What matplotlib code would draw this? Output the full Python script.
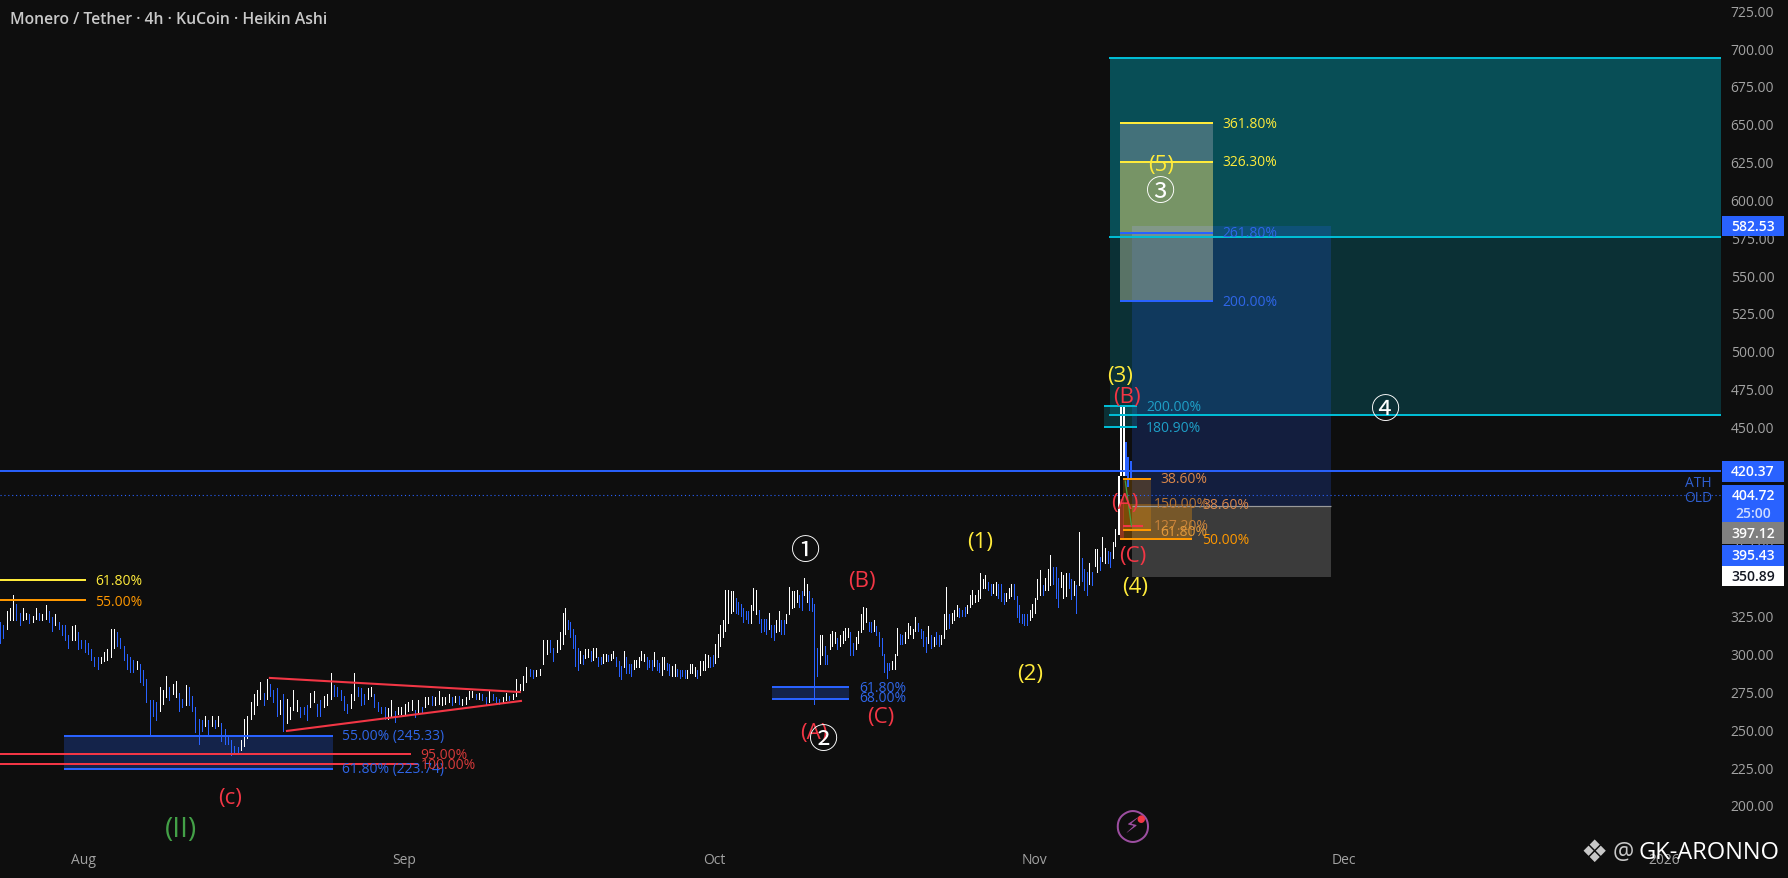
import numpy as np
import matplotlib.pyplot as plt
from matplotlib.patches import Rectangle

W, H = 1788, 879
BG = "#0e0e0e"
BLUE = "#2962ff"
CYAN = "#00bcd4"
YELLOW = "#ffeb3b"
ORANGE = "#ff9800"
RED = "#f23645"

plt.rcParams['font.family'] = ['Open Sans', 'DejaVu Sans']

# price bars (about one bar in two), high / low / colour
sec1_hi = [321,319,328,330,339,333,327,330,327,326,
           325,330,327,326,332,328,324,326,321,319,
           319,312,318,319,314,309,309,307,303,298,
           298,298,301,303,316,316,314,310,305,300,
           298,296,295,293,289,283,269,269,268,278,
           276,285,278,280,282,274,270,279,278,272,
           265,257,256,259,256,259,256,259,254,250,
           245,243,239,238,243,257,259,268,273,276,
           281,274,283,280,276,277]
sec1_lo = [307,310,316,322,322,322,319,322,323,320,
           321,323,322,322,323,321,315,319,316,312,
           309,304,309,309,303,304,301,300,296,292,
           290,294,295,296,298,304,305,304,296,290,
           288,288,290,281,279,268,247,259,256,262,
           267,271,269,273,271,262,265,266,266,262,
           248,240,249,252,247,252,251,252,242,240,
           240,233,234,235,236,239,244,257,260,266,
           270,266,270,272,268,259]
sec1_up = "bbwwwbbwwb" "wwbwwbbwbb" "bbwwbbbbbb" "bwwwwwbbbb" "bbwbbbbbbw" \
          "wwbwwbbwbb" "bbbwbwbwbb" "bbbbwwwwww" "wbwbbb"

sec2_hi = [269,273,270,265,276,269,265,265,266,274,
           275,267,269,272,273,287,279,278,276,272,
           267,273,287,278,277,273,277,278,273,268,
           265,265,264,269,262,265,265,267,268,269,
           263,269,265,271,271,272,271,275,271,271,
           273,271,272,272,270,271,275,275,273,274,
           273,271,276,273,271,270,271,274,272,273,
           283,280,285,291,290,289,289,290,309,309,
           309,304,309]
sec2_lo = [260,249,254,257,263,262,258,260,256,265,
           268,259,259,265,266,270,272,272,269,263,
           261,264,269,272,266,267,270,272,265,262,
           261,257,257,258,255,260,260,260,262,263,
           258,261,261,265,267,266,266,267,266,267,
           268,266,268,267,266,267,270,271,270,270,
           269,267,268,269,268,267,268,269,269,270,
           272,276,276,281,285,284,285,286,293,300,
           301,295,301]
sec2_up = "wbwwwwbbbw" "wbbwwwbbbb" "bwwbbbwwbb" "bbwwbwwwww" "bwbwwbwwww" \
          "wbwbwwwwbw" "bbwbbbwwbw" "wwwwbbwwww" "bbw"

sec3_hi = [314,327,330,322,321,316,312,304,302,299,
           303,303,302,304,304,298,298,300,300,299,
           300,302,298,295,292,302,298,293,293,296,
           296,298,302,300,298,296,296,301,296,294,
           298,298,294,293,292,293,290,289,289,289,
           289,293,293,291,289,295,295,300,299,298,
           299,306,313,319,322,342,342,341,341,337,
           334,333,330,328,328,332,343,342,329,323,
           323,323,327,319,319,322,328,322,322,326,
           344,341,341,342,339,341,350,346,341,337,
           333,304,312,312,305,299,313,315,314,310]
sec3_lo = [303,306,313,316,311,304,292,289,294,293,
           297,298,295,296,298,292,293,294,295,295,
           296,297,292,285,283,291,287,287,285,290,
           291,291,296,295,290,291,289,292,289,288,
           286,290,289,286,285,285,285,284,285,284,
           284,287,287,285,284,286,289,289,291,291,
           292,294,298,305,311,315,320,327,328,327,
           326,325,321,323,320,320,329,326,320,314,
           315,313,316,311,309,314,315,313,313,320,
           326,330,331,334,331,329,339,334,329,328,
           267,285,293,299,293,293,303,305,307,303]
sec3_up = "wwwbbbbbwb" "wwbwwbbwwb" "wwbbbwbbbw" "wwwwbbbwbb" "wwbbwwbbbb" \
          "wwwwbwwwwb" "bwwwwwwwwb" "bbbbbwwwbb" "bbwbbwwbbw" "wwwwbbwwbb" "bbwwbbwwwb"

sec4_hi = [312,315,317,317,314,307,311,315,326,331,
           330,321,321,322,318,314,310,300,294,294,
           295,300,317,313,312,314,320,318,316,324,
           320,316,315,311,318,312,311,314,312,312,
           326,344,326,327,329,332,330,329,331,332,
           339,342,339,342,353,349,352,347,346,346,
           347,346,346,340,340,343,346,346,338,332,
           326,326,326,329,333,337,349,355,345,350,
           356,365,357,357,350,354,352,353,353,349,
           348,345,380,363,356,354,360,354,369,369,
           364,377,370,368,367,374,382]
sec4_lo = [305,307,309,311,299,299,303,307,314,316,
           321,315,314,315,312,305,299,288,284,289,
           290,290,299,306,306,307,310,313,310,315,
           315,310,305,301,307,304,305,306,305,306,
           310,316,317,320,322,325,324,325,325,327,
           331,333,334,335,337,343,343,342,339,340,
           339,337,335,333,335,337,338,336,324,321,
           320,319,319,322,324,327,336,339,339,342,
           342,345,346,337,331,344,337,338,343,336,
           339,327,345,348,342,339,346,345,358,354,
           355,361,360,360,357,363,371]
sec4_up = "wwwwbbwwww" "wbbwbbbbbb" "wwwbbwwwww" "bbbbwbwbbw" "wwbwwwbbbw" \
          "wwwwwwwbbw" "wbbbwwwbbb" "bbbwwwwwbw" "wwbbbwwwbb" "wbwbbbwbww" "bwwbbww"

# days since 1 Aug where each stretch of bars starts and stops
sec_days = [-8.13, 18.97, 46.08, 73.18, 100.1]

# the spike at the right end
spike_days = [100.2, 100.4, 100.7, 100.9, 101.1, 101.4]
spike_hi = [417, 464, 464, 440, 430, 427]
spike_lo = [378, 417, 417, 417, 410, 415]
spike_up = "wwwbbb"

price_ticks = list(range(200, 750, 25))
month_days = [0, 31, 61, 92, 122, 153]
month_labels = ["Aug", "Sep", "Oct", "Nov", "Dec", "2026"]

fig = plt.figure(figsize=(W / 100, H / 100), dpi=100, facecolor=BG)
ax = fig.add_axes([0, 34 / H, 1721 / W, 845 / H], facecolor=BG)
ax.set_xlim(-8.13, 158.47)
ax.set_ylim(174.2, 732.4)
for s in ax.spines.values():
    s.set_visible(False)


def zone(d0, d1, p0, p1, col, a):
    ax.add_patch(Rectangle((d0, p0), d1 - d0, p1 - p0, fc=col, alpha=a, lw=0, zorder=1))


def level(d0, d1, p, col, lw=2):
    ax.plot([d0, d1], [p, p], color=col, lw=lw * 0.72, zorder=3, solid_capstyle='butt')


# long position box
zone(99.3, 158.47, 575.4, 693.4, CYAN, 0.37)
zone(99.3, 158.47, 457.6, 575.4, CYAN, 0.2)
for p in [693.4, 575.4, 457.6]:
    level(99.2, 158.47, p, CYAN)

# short position box
zone(101.45, 120.7, 397.5, 582.6, BLUE, 0.2)
zone(101.45, 120.7, 350.6, 397.5, "#808080", 0.4)
level(101.45, 120.7, 397.5, "#9a9a9a", 1.2)

# fib extension top right
zone(100.3, 109.3, 624.7, 650.5, "#b2b5be", 0.35)
zone(100.3, 109.3, 577.8, 624.7, "#ffeb7a", 0.45)
zone(100.3, 109.3, 532.9, 577.8, "#d0d8b0", 0.4)
zone(101.45, 109.3, 575.4, 582.6, "#8a9a9a", 0.5)
level(100.3, 109.3, 650.5, YELLOW)
level(100.3, 109.3, 624.7, YELLOW)
level(100.3, 109.3, 577.8, BLUE)
level(100.3, 109.3, 532.9, BLUE)

# small fibs round the spike
zone(98.7, 101.9, 449.7, 463.5, CYAN, 0.2)
level(98.7, 101.9, 463.5, CYAN)
level(98.7, 101.9, 449.7, CYAN)
zone(100.6, 103.3, 381.6, 415.3, ORANGE, 0.22)
zone(100.3, 107.3, 375.7, 398.8, ORANGE, 0.3)
zone(100.3, 100.7, 375.7, 402, RED, 0.35)
level(100.6, 103.3, 415.3, ORANGE)
level(100.6, 103.3, 381.6, ORANGE)
level(100.6, 102.5, 384.3, RED)
level(100.3, 107.3, 375.7, ORANGE)

# left hand levels
level(-8.13, 0.19, 348.6, YELLOW)
level(-8.13, 0.19, 335.4, ORANGE)
zone(-1.94, 24.1, 223.74, 245.33, BLUE, 0.25)
level(-1.94, 24.1, 245.33, BLUE)
level(-1.94, 24.1, 223.74, BLUE)
level(-8.13, 31.65, 233.7, RED)
level(-8.13, 32.3, 227.1, RED)
zone(66.6, 74.06, 270.0, 277.9, BLUE, 0.25)
level(66.6, 74.06, 277.9, BLUE)
level(66.6, 74.06, 270.0, BLUE)

# triangle
ax.plot([18.0, 42.2], [283.9, 274.6], color=RED, lw=1.5, zorder=4)
ax.plot([19.65, 42.3], [248.9, 268.7], color=RED, lw=1.5, zorder=4)

# bars
for i, (hi, lo, up) in enumerate([(sec1_hi, sec1_lo, sec1_up), (sec2_hi, sec2_lo, sec2_up),
                                  (sec3_hi, sec3_lo, sec3_up), (sec4_hi, sec4_lo, sec4_up)]):
    days = np.linspace(sec_days[i], sec_days[i + 1], len(hi), endpoint=False)
    cols = ["#ffffff" if c == "w" else BLUE for c in up]
    ax.vlines(days, lo, hi, colors=cols, lw=0.72, zorder=2, antialiased=False)
cols = ["#ffffff" if c == "w" else BLUE for c in spike_up]
ax.vlines(spike_days, spike_lo, spike_hi, colors=cols, lw=1.44, zorder=2, antialiased=False)
ax.plot([100.8, 101.4], [414, 384.3], color="#43a047", lw=0.9, zorder=3)

# ATH lines
ax.axhline(420.37, color=BLUE, lw=1.4, zorder=3)
ax.axhline(404.72, color=BLUE, lw=0.8, ls=(0, (1, 2.5)), zorder=3)

ax.yaxis.tick_right()
ax.set_yticks(price_ticks)
ax.set_yticklabels(["%.2f" % p for p in price_ticks])
ax.set_xticks(month_days)
ax.set_xticklabels(month_labels)
ax.tick_params(axis='both', length=0, colors="#a3a3a3", labelsize=10)
ax.tick_params(axis='y', pad=7)
ax.tick_params(axis='x', pad=6)


def label(x, y, s, col, size=10, ha='left', **kw):
    fig.text(x / W, 1 - y / H, s, color=col, fontsize=size, ha=ha, va='center', zorder=7, **kw)


label(10, 20, "Monero / Tether · 4h · KuCoin · Heikin Ashi", "#c9c9c9", 11.3, weight='semibold')

# fib percent labels
FIB_BLUE = "#2f66e8"
label(1222, 124, "361.80%", YELLOW)
label(1222, 163, "326.30%", YELLOW)
label(1222, 234, "261.80%", FIB_BLUE)
label(1222, 302, "200.00%", FIB_BLUE)
label(1146, 408, "200.00%", "#1e9fc7")
label(1146, 429, "180.90%", "#1e9fc7")
label(1160, 480, "38.60%", "#d9874a")
label(1154, 505, "150.00%", "#b8742f")
label(1202, 506, "38.60%", "#d9874a")
label(1154, 527, "127.20%", "#c8823a")
label(1160, 532, "61.80%", "#e0983a")
label(1202, 540, "50.00%", ORANGE)
label(95, 582, "61.80%", YELLOW)
label(95, 602, "55.00%", ORANGE)
label(342, 737, "55.00% (245.33)", FIB_BLUE)
label(342, 770, "61.80% (223.74)", FIB_BLUE)
label(420, 756, "95.00%", "#d83a3a")
label(421, 766, "100.00%", "#d83a3a")
label(859, 689, "61.80%", FIB_BLUE)
label(859, 699, "68.00%", FIB_BLUE)

# wave counts
for x, y, s in [(1120, 377, "(3)"), (1161, 166, "(5)"), (1135, 587, "(4)"), (980, 543, "(1)"), (1030, 675, "(2)")]:
    label(x, y, s, YELLOW, 16, ha='center', weight='medium')
for x, y, s in [(1127, 398, "(B)"), (1125, 504, "(A)"), (1133, 557, "(C)"), (862, 582, "(B)"),
                (881, 717, "(C)"), (814, 734, "(A)"), (230, 799, "(c)")]:
    label(x, y, s, RED, 16, ha='center', weight='medium')
label(181, 830, "(II)", "#43a047", 20, ha='center', weight='medium')
for x, y, s in [(806, 552, "①"), (824, 741, "②"), (1161, 193, "③"), (1386, 411, "④")]:
    label(x, y, s, "#ffffff", 21, ha='center', family='Noto Sans CJK JP')

# right hand price tags
label(1712, 484, "ATH", "#2f5fd0", 10, ha='right')
label(1712, 499, "OLD", "#2f5fd0", 10, ha='right')


def tag(y0, y1, col):
    fig.add_artist(Rectangle((1722 / W, 1 - y1 / H), 62 / W, (y1 - y0) / H, fc=col, lw=0,
                             transform=fig.transFigure, zorder=5))


tag(217, 237, BLUE)
tag(462, 483, BLUE)
tag(486, 523, BLUE)
tag(523, 545, "#808080")
tag(546, 567, BLUE)
tag(567, 587, "#ffffff")
label(1753, 227, "582.53", "#ffffff", 10, ha='center', weight='semibold')
label(1753, 472, "420.37", "#ffffff", 10, ha='center', weight='semibold')
label(1753, 496, "404.72", "#ffffff", 10, ha='center', weight='semibold')
label(1753, 514, "25:00", "#cfdcff", 10, ha='center', weight='semibold')
label(1753, 534, "397.12", "#ffffff", 10, ha='center', weight='semibold')
label(1753, 556, "395.43", "#ffffff", 10, ha='center', weight='semibold')
label(1753, 577, "350.89", "#131722", 10, ha='center', weight='semibold')

# lightning icon
label(1132, 827, "◯", "#9c4ea0", 23, ha='center', family='DejaVu Sans')
label(1132, 827, "⚡", "#9c4ea0", 15, ha='center', family='DejaVu Sans')
label(1141, 819, "●", RED, 7, ha='center', family='DejaVu Sans')

# watermark
label(1594, 853, "❖", "#c8c8c8", 22, ha='center', family='DejaVu Sans')
label(1613, 853, "@", "#c8c8c8", 17)
label(1638, 853, "GK-ARONNO", "#ffffff", 17)

fig.savefig("out.png", dpi=100, facecolor=BG)
